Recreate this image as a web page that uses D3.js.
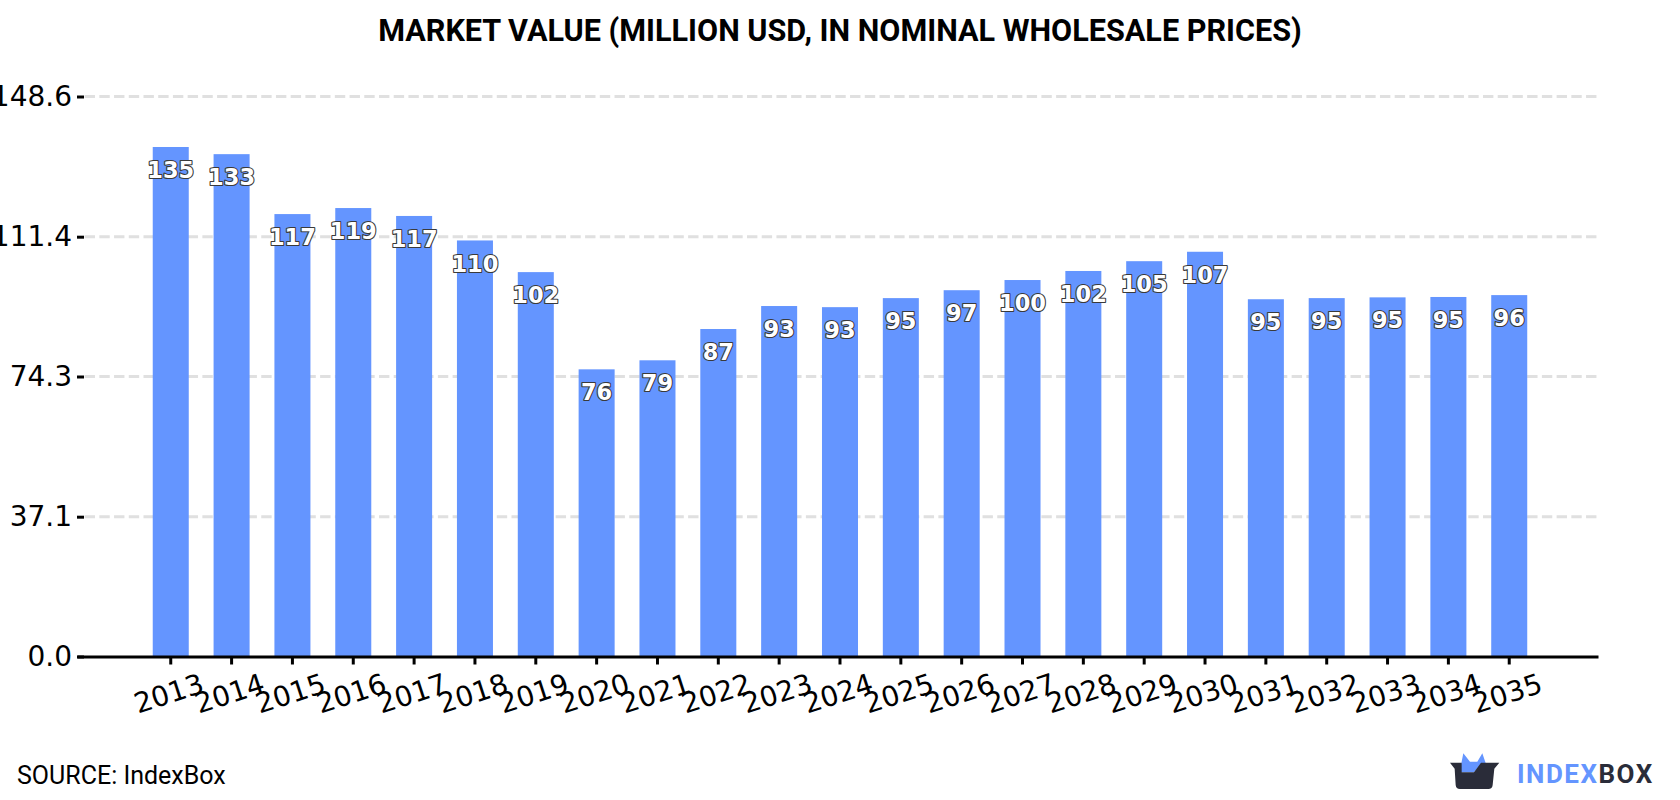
<!DOCTYPE html>
<html>
<head>
<meta charset="utf-8">
<script src="https://cdn.jsdelivr.net/npm/d3@7/dist/d3.min.js"></script>
<style>
  html, body { margin: 0; padding: 0; background: #fff; }
  svg { display: block; }
</style>
</head>
<body>
<svg id="chart" width="1680" height="800"></svg>
<script>
const years = ["2013","2014","2015","2016","2017","2018","2019","2020","2021","2022","2023","2024","2025","2026","2027","2028","2029","2030","2031","2032","2033","2034","2035"];
const marketValue = [135.2,133.3,117.4,119.0,116.9,110.4,102.0,76.2,78.6,86.9,93.0,92.7,95.1,97.2,99.9,102.3,104.9,107.4,94.8,95.1,95.3,95.4,95.9];
const valueTicks = [0, 37.1, 74.3, 111.4, 148.6];
const chartTitle = "MARKET VALUE (MILLION USD, IN NOMINAL WHOLESALE PRICES)";
const sourceText = "SOURCE: IndexBox";

const BAR = "#6495ff", INK = "#000", GRID = "#e0e0e0";
const svg = d3.select("#chart");
const left = 77, right = 1598, baseY = 656.5, topY = 96.5;

const x = d3.scaleBand().domain(years).range([left, right])
  .paddingInner(0.408).paddingOuter(1.204).align(0.517);
const y = d3.scaleLinear().domain([0, 148.6]).range([baseY, topY]);

// Title
svg.append("text").attr("x", 840).attr("y", 41)
  .attr("text-anchor", "middle")
  .style("font", "700 30.6px Roboto, sans-serif")
  .attr("fill", INK).text(chartTitle);

// Dashed horizontal grid, drawn beneath the bars
svg.append("g").selectAll("line")
  .data(valueTicks.filter(d => d > 0)).join("line")
  .attr("x1", 84.6).attr("x2", 1596.6)
  .attr("y1", d => y(d)).attr("y2", d => y(d))
  .attr("stroke", GRID).attr("stroke-width", 3)
  .attr("stroke-dasharray", "10.4 4.32");

// Bars
svg.append("g").selectAll("rect")
  .data(years).join("rect")
  .attr("x", d => x(d)).attr("width", x.bandwidth())
  .attr("y", (d, i) => y(marketValue[i]))
  .attr("height", (d, i) => baseY - y(marketValue[i]))
  .attr("fill", BAR);

// Y axis
const yAxis = svg.append("g").attr("transform", `translate(${left + 7},0)`)
  .call(d3.axisLeft(y).tickValues(valueTicks).tickFormat(d3.format(".1f")).tickSize(7).tickPadding(5));
yAxis.select(".domain").remove();
yAxis.selectAll(".tick line").attr("stroke", INK).attr("stroke-width", 3);
yAxis.selectAll(".tick text")
  .style("font", "28px 'DejaVu Sans', sans-serif").attr("fill", INK);

// X axis
const xAxis = svg.append("g").attr("transform", `translate(0,${baseY})`)
  .call(d3.axisBottom(x).tickSize(8).tickSizeOuter(0));
xAxis.select(".domain").attr("stroke", INK).attr("stroke-width", 3);
xAxis.selectAll(".tick line").attr("stroke", INK).attr("stroke-width", 3);
xAxis.selectAll(".tick text")
  .style("font", "28px 'DejaVu Sans', sans-serif").attr("fill", INK)
  .attr("text-anchor", "middle")
  .attr("x", 0).attr("y", 0).attr("dy", "0.35em")
  .attr("transform", "translate(-2,37) rotate(-18)");

// Value labels, white with a dark outline
svg.append("g").selectAll("text")
  .data(years).join("text")
  .attr("x", d => x(d) + x.bandwidth() / 2)
  .attr("y", (d, i) => y(marketValue[i]) + 23)
  .attr("dy", "0.36em")
  .attr("text-anchor", "middle")
  .style("font", "700 22.5px 'DejaVu Sans', sans-serif")
  .attr("fill", "#fff").attr("stroke", "#3a3a3a").attr("stroke-width", 2.2)
  .attr("paint-order", "stroke").attr("stroke-linejoin", "round")
  .text((d, i) => Math.round(marketValue[i]));

// Source line
svg.append("text").attr("x", 17).attr("y", 784)
  .style("font", "400 25px Roboto, sans-serif")
  .attr("fill", INK).text(sourceText);

// IndexBox mark and wordmark
const logo = svg.append("g").attr("transform", "translate(1400,720) scale(0.3333)");
logo.append("path").attr("fill", BAR)
  .attr("d", "M183 135L190 100L210 125L232 125L247 100L259 135L240 135L222 157L183 157Z");
logo.append("path").attr("fill", "#2a2c39")
  .attr("d", "M150 128L185 128L185 157L222 157L243 128L298 128L283 146L278 195Q277 207 265 207L180 207Q168 207 167 195L164 146Z");
const word = svg.append("text").attr("x", 1517).attr("y", 782.5)
  .style("font", "700 26px Roboto, sans-serif").style("letter-spacing", "1.5px");
word.append("tspan").attr("fill", BAR).text("INDEX");
word.append("tspan").attr("fill", "#2a2c39").text("BOX");
</script>
</body>
</html>
